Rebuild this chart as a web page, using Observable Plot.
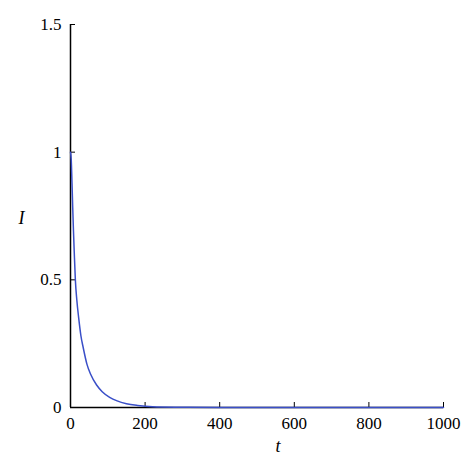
<!DOCTYPE html>
<html>
<head>
<meta charset="utf-8">
<script src="https://cdn.jsdelivr.net/npm/d3@7"></script>
<script src="https://cdn.jsdelivr.net/npm/@observablehq/plot@0.6"></script>
<style>
  html, body { margin: 0; padding: 0; background: #fff; }
</style>
</head>
<body>
<div id="chart"></div>
<script>
const tValues = [0, 2, 4, 6, 8, 10, 13, 17, 22, 28, 34, 44, 54, 70, 85, 105, 125, 150, 180, 220, 300, 400, 600, 800, 1000];
const iValues = [1.0, 0.97, 0.88, 0.78, 0.69, 0.61, 0.5, 0.42, 0.35, 0.28, 0.235, 0.17, 0.13, 0.088, 0.062, 0.04, 0.026, 0.015, 0.008, 0.003, 0.001, 0, 0, 0, 0];
const xTicks = [0, 200, 400, 600, 800, 1000];
const yTicks = [0, 0.5, 1, 1.5];
const yTickLabels = ["0", "0.5", "1", "1.5"];
const xLabel = "t";
const yLabel = "I";

const data = tValues.map((t, i) => ({t, I: iValues[i]}));
const serif = "Liberation Serif";

const chart = Plot.plot({
  width: 474,
  height: 476,
  marginLeft: 70,
  marginRight: 31,
  marginTop: 24,
  marginBottom: 69,
  style: {fontFamily: serif, fontSize: "16px", color: "#000", background: "#fff"},
  x: {domain: [0, 1000], label: null},
  y: {domain: [0, 1.5], label: null},
  marks: [
    Plot.axisX({ticks: xTicks, tickSize: 0, tickPadding: 9, tickFormat: d => String(d), fontSize: 17, fontFamily: serif}),
    Plot.axisX({ticks: xTicks.filter(d => d > 0), tickSize: 5, dy: -5, tickFormat: () => "", stroke: "#000"}),
    Plot.axisY({ticks: yTicks, tickSize: 0, tickPadding: 9, tickFormat: d => yTickLabels[yTicks.indexOf(d)], fontSize: 17, fontFamily: serif}),
    Plot.axisY({ticks: yTicks.filter(d => d > 0), tickSize: 5, dx: 5, tickFormat: () => "", stroke: "#000"}),
    Plot.ruleY([0], {stroke: "#000", strokeWidth: 1.5}),
    Plot.ruleX([0], {stroke: "#000", strokeWidth: 1.5}),
    Plot.line(data, {x: "t", y: "I", stroke: "#3a4fc8", strokeWidth: 1.5, curve: "monotone-x"}),
    Plot.text([xLabel], {frameAnchor: "bottom", dy: 44, dx: 21, text: d => d, fontStyle: "italic", fontSize: 18, fontFamily: serif}),
    Plot.text([yLabel], {frameAnchor: "left", dx: -52, dy: 2, text: d => d, fontStyle: "italic", fontSize: 18, fontFamily: serif})
  ]
});
document.getElementById("chart").appendChild(chart);
</script>
</body>
</html>
